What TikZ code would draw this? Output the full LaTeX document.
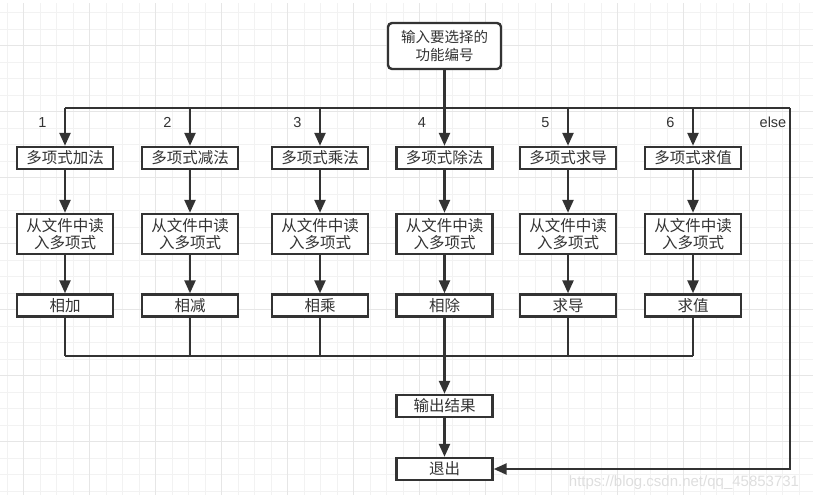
\documentclass[tikz,border=0pt]{standalone}
\usepackage{fontspec}
\setmainfont{Liberation Sans}
\newfontfamily\cjk{Noto Sans CJK SC}
\usetikzlibrary{arrows.meta}
\definecolor{ink}{HTML}{333333}
\definecolor{gridminor}{HTML}{F2F2F2}
\definecolor{gridmajor}{HTML}{E6E6E6}

\begin{document}
\begin{tikzpicture}[x=1pt,y=-1pt,>={Triangle[length=13pt,width=11pt]},
    box/.style={draw=ink,line width=2.4pt,fill=white,text=ink,minimum width=96pt,minimum height=22pt,inner sep=0pt,align=center,font=\cjk\fontsize{15.5}{17.5}\selectfont},
    line/.style={draw=ink,line width=2.4pt},
    lbl/.style={text=ink,inner sep=0pt,font=\fontsize{14.5}{16}\selectfont}]

    \useasboundingbox (0,0) rectangle (813,501);

    % 背景网格
    \foreach \k in {0,...,48} {
            \draw[gridminor,line width=0.8pt] (7.3+16.5*\k,3) -- (7.3+16.5*\k,495);
        }
    \foreach \k in {0,...,29} {
            \draw[gridminor,line width=0.8pt] (0,12.7+16.5*\k) -- (813,12.7+16.5*\k);
        }
    \foreach \k in {1,5,...,45} {
            \draw[gridmajor,line width=0.8pt] (7.3+16.5*\k,3) -- (7.3+16.5*\k,495);
        }
    \foreach \k in {2,6,...,26} {
            \draw[gridmajor,line width=0.8pt] (0,12.7+16.5*\k) -- (813,12.7+16.5*\k);
        }

    % 开始
    \node[box,rounded corners=4pt,minimum width=113pt,minimum height=46pt,font=\cjk\fontsize{14.5}{18}\selectfont] (input) at (444.5,46) {输入要选择的\\功能编号};

    \coordinate (busL) at (65,108);
    \coordinate (busR) at (790,108);
    \coordinate (join) at (444.5,356);

    % 六个功能分支
    \foreach \i/\x/\name/\op in {1/65/加法/相加,2/190/减法/相减,3/320/乘法/相乘,4/444.5/除法/相除,5/568/求导/求导,6/693/求值/求值} {
            \node[box] (f\i) at (\x,158) {多项式\name};
            \node[box,minimum height=40pt] (r\i) at (\x,234) {从文件中读\\入多项式};
            \node[box] (c\i) at (\x,305.5) {\op};
            \node[lbl] (n\i) at (\x-22.5,122.5) {\i};
            \draw[line,->] (f\i |- busL) -- (f\i);
            \draw[line,->] (f\i) -- (r\i);
            \draw[line,->] (r\i) -- (c\i);
            \draw[line] (c\i) -- (c\i |- join);
        }
    \node[lbl] (nelse) at (773,122.5) {else};

    % 输出与退出
    \node[box] (output) at (444.5,406) {输出结果};
    \node[box] (exit) at (444.5,469) {退出};

    \draw[line] (busL) -- (busR);
    \draw[line] (input) -- (input |- busL);
    \draw[line] (c1 |- join) -- (c6 |- join);
    \draw[line,->] (join) -- (output);
    \draw[line,->] (output) -- (exit);
    \draw[line,->] (busR) |- (exit);

    % 水印
    \node[text=black!13,inner sep=0pt,font=\fontsize{15}{16}\selectfont] (mark) at (684,483) {https://blog.csdn.net/qq\_45853731};

\end{tikzpicture}
\end{document}
